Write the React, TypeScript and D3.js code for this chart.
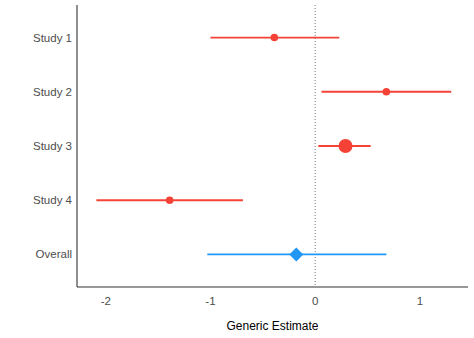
import React from "react";
import * as d3 from "d3";

const studies = ["Study 1", "Study 2", "Study 3", "Study 4", "Overall"];
const estimates = [-0.39, 0.68, 0.29, -1.39, -0.18];
const lower = [-1.0, 0.06, 0.03, -2.09, -1.03];
const upper = [0.23, 1.3, 0.53, -0.69, 0.68];
const weights = [1, 1, 3, 1, 0];
const xTicks = [-2, -1, 0, 1];

const W = 474, H = 338;
const left = 77, right = 468, top = 5, bottom = 287;

export default function App() {
  const x = d3.scaleLinear().domain([-2.275, 1.46]).range([left, right]);
  const y = d3.scalePoint<string>().domain(studies).range([top, bottom]).padding(0.6);
  const red = "#F44336";
  const blue = "#2196F3";
  return (
    <svg width={W} height={H} style={{ position: "absolute", left: 0, top: 0, background: "#fff" }}
      fontFamily="Liberation Sans, Arial, sans-serif">
      <line x1={x(0)} x2={x(0)} y1={top} y2={bottom} stroke="#777" strokeWidth={1} strokeDasharray="1,2" />
      {studies.map((s, i) => {
        const cy = y(s)!;
        const isOverall = s === "Overall";
        const col = isOverall ? blue : red;
        const r = weights[i] > 2 ? 7 : 3.8;
        const cx = x(estimates[i]);
        return (
          <g key={s}>
            <line x1={x(lower[i])} x2={x(upper[i])} y1={cy} y2={cy} stroke={col} strokeWidth={1.8} />
            {isOverall ? (
              <path d={`M${cx},${cy - 7}L${cx + 7},${cy}L${cx},${cy + 7}L${cx - 7},${cy}Z`} fill={col} />
            ) : (
              <circle cx={cx} cy={cy} r={r} fill={col} />
            )}
            <text x={left - 5} y={cy} dy="0.35em" textAnchor="end" fontSize={11.5} fill="#4d4d4d">{s}</text>
          </g>
        );
      })}
      <line x1={left} x2={left} y1={top} y2={bottom} stroke="#333" strokeWidth={1.1} />
      <line x1={left} x2={right} y1={bottom} y2={bottom} stroke="#333" strokeWidth={1.1} />
      {xTicks.map((t) => (
        <text key={t} x={x(t)} y={bottom + 14} dy="0.35em" textAnchor="middle" fontSize={11.5} fill="#4d4d4d">{t}</text>
      ))}
      <text x={(left + right) / 2} y={326} dy="0.35em" textAnchor="middle" fontSize={12} fill="#000">Generic Estimate</text>
    </svg>
  );
}
